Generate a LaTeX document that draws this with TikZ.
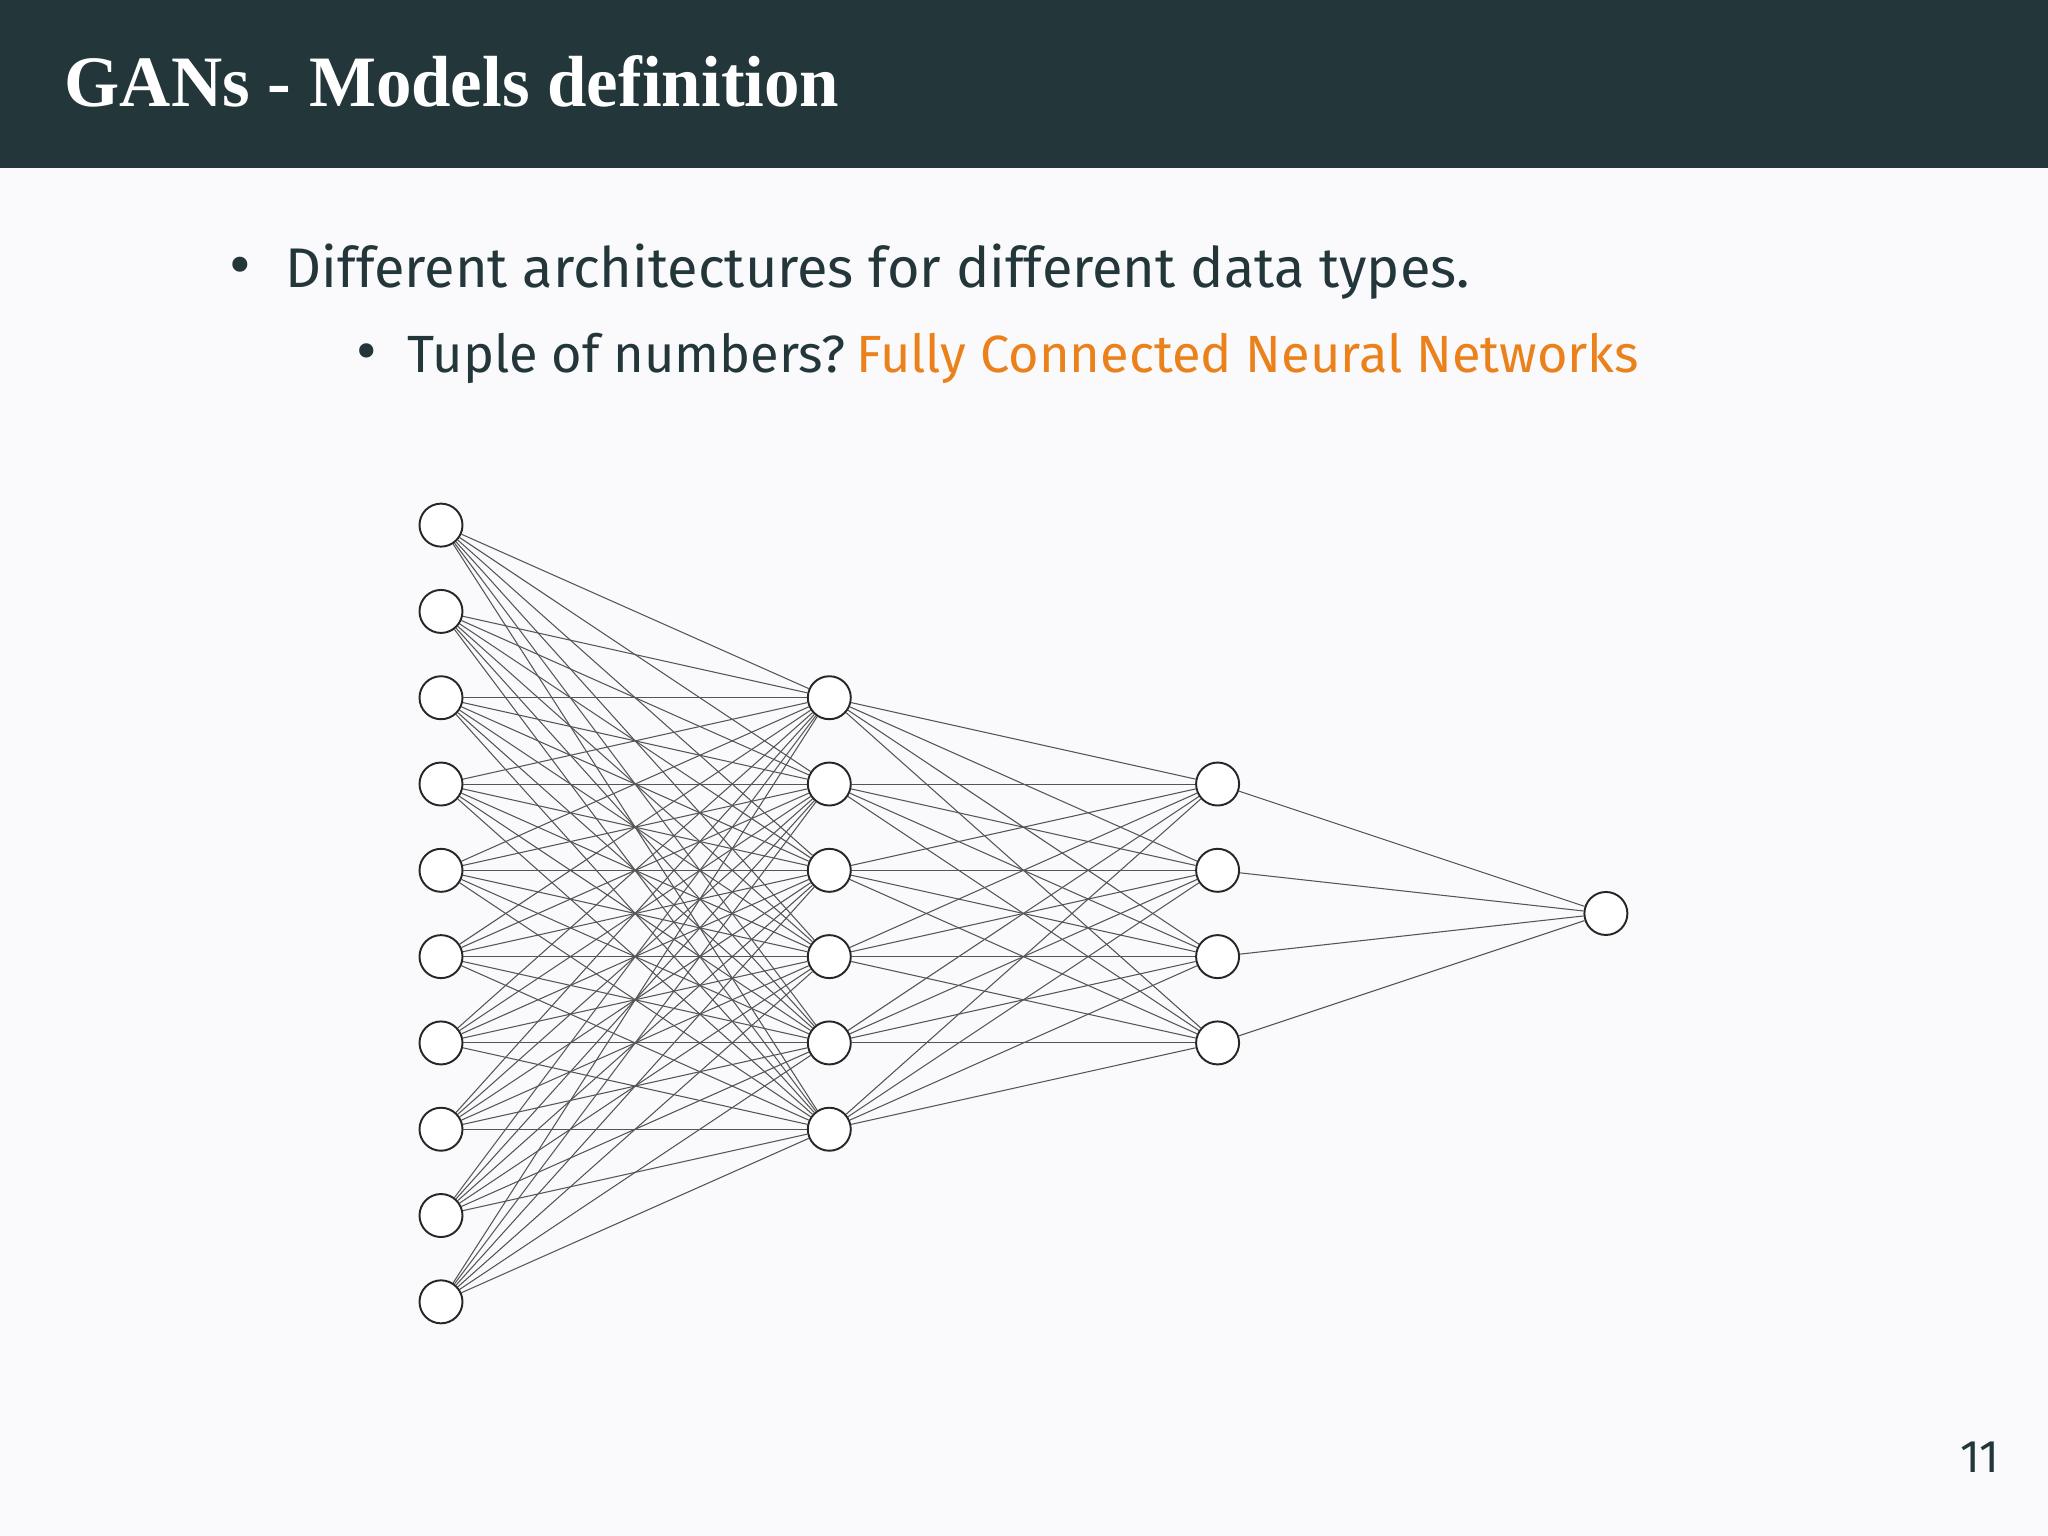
\documentclass[tikz,border=0pt]{standalone}
\usepackage{fontspec}
\setmainfont{Fira Sans}
\newfontfamily\titlefont{Liberation Serif}[FakeStretch=0.98]
\usepackage{tikz}

\definecolor{darkteal}{HTML}{23373B}
\definecolor{alertorange}{HTML}{EB811B}
\definecolor{slidebg}{HTML}{FAFAFC}
\definecolor{wiregray}{HTML}{555555}

\tikzset{
  neuron/.style={circle, draw=black!85, fill=white, line width=0.55pt,
    minimum size=4.3mm, inner sep=0pt},
  wire/.style={draw=wiregray, line width=0.3pt},
  slidetext/.style={anchor=base west, inner sep=0pt, text=darkteal,
    font=\fontsize{15.9}{19}\selectfont},
  subtext/.style={slidetext, font=\fontsize{14.9}{18}\selectfont},
}

\begin{document}
\begin{tikzpicture}
    % Slide background and header bar
    \fill[slidebg] (0,0) rectangle (20.48,15.36);
    \fill[darkteal] (0,13.68) rectangle (20.48,15.36);
    \node[anchor=base west, inner sep=0pt, text=white,
      font=\titlefont\bfseries\fontsize{20.6}{24}\selectfont] (title) at (0.64,14.29)
      {GANs - Models definition};

    % Bullet list
    \node[slidetext, anchor=base, font=\fontsize{19}{22}\selectfont] (dot1) at (2.40,12.48) {\textbullet};
    \node[slidetext] (item1) at (2.85,12.48) {Different architectures for different data types.};
    \node[subtext, anchor=base, font=\fontsize{18}{22}\selectfont] (dot2) at (3.67,11.63) {\textbullet};
    \node[subtext] (item2) at (4.07,11.63)
      {Tuple of numbers?\hspace{0.2em}\textcolor{alertorange}{Fully Connected Neural Networks}};

    % Layer spacing
    \pgfmathsetmacro{\dx}{3.883}
    \pgfmathsetmacro{\dy}{0.863}

    % Neurons of the four layers
    \foreach \i in {1,...,10}
        \node[neuron] (in\i) at (4.41,{6.225-(\i-5.5)*\dy}) {};
    \foreach \i in {1,...,6}
        \node[neuron] (hA\i) at (4.41+\dx,{6.225-(\i-3.5)*\dy}) {};
    \foreach \i in {1,...,4}
        \node[neuron] (hB\i) at (4.41+2*\dx,{6.225-(\i-2.5)*\dy}) {};
    \node[neuron] (out) at (4.41+3*\dx,6.225) {};

    % Fully connected wiring
    \foreach \i in {1,...,10}
        \foreach \j in {1,...,6}
            \draw[wire] (in\i) -- (hA\j);
    \foreach \i in {1,...,6}
        \foreach \j in {1,...,4}
            \draw[wire] (hA\i) -- (hB\j);
    \foreach \i in {1,...,4}
        \draw[wire] (hB\i) -- (out);

    % Page number
    \node[anchor=base east, inner sep=0pt, text=darkteal,
      font=\fontsize{13}{15}\selectfont] (pagenum) at (20.0,0.63) {11};
\end{tikzpicture}
\end{document}
